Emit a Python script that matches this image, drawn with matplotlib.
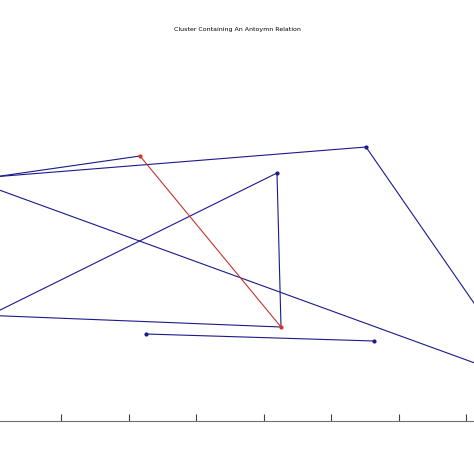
import matplotlib
matplotlib.use("Agg")
import matplotlib.pyplot as plt

# coordinates (x: tick units, y: arbitrary units above axis)
def X(px): return 1 + (px - 61) / 67.5
def Y(py): return (421 - py) / 67.5

blue_paths = [
    [(-20, 178), (366, 147), (494, 332)],
    [(-20, 179), (140, 156)],
    [(-20, 183), (494, 370)],
    [(-20, 320), (277, 173), (281, 327), (-20, 315)],
    [(146, 334), (374, 341)],
]
blue_pts = [(366, 147), (277, 173), (146, 334), (374, 341)]
red_path = [(140, 156), (281, 327)]

fig = plt.figure(figsize=(4.74, 4.74), dpi=100)
ax = fig.add_axes([0, 53/474, 1, 421/474])
for p in blue_paths:
    ax.plot([X(a) for a, b in p], [Y(b) for a, b in p], color="#1a1a8c", lw=0.8)
ax.plot([X(a) for a, b in red_path], [Y(b) for a, b in red_path], color="#c83232", lw=0.8)
ax.plot([X(a) for a, b in red_path], [Y(b) for a, b in red_path], 'o', color="#e03020", ms=2)
ax.plot([X(a) for a, b in blue_pts], [Y(b) for a, b in blue_pts], 'o', color="#1a1a8c", ms=2)
ax.set_xlim(X(0), X(474))
ax.set_ylim(0, Y(0))
ax.set_xticks([1, 2, 3, 4, 5, 6, 7])
ax.set_xticklabels([])
ax.set_yticks([])
for s in ["top", "left", "right"]:
    ax.spines[s].set_visible(False)
ax.spines["bottom"].set_color("#707070")
ax.tick_params(axis="x", direction="in", length=5, color="#404040")
fig.text(0.5, 1 - 29/474, "Cluster Containing An Antoymn Relation", ha="center", va="center", fontsize=4.5)
fig.savefig("out.png", dpi=100)
